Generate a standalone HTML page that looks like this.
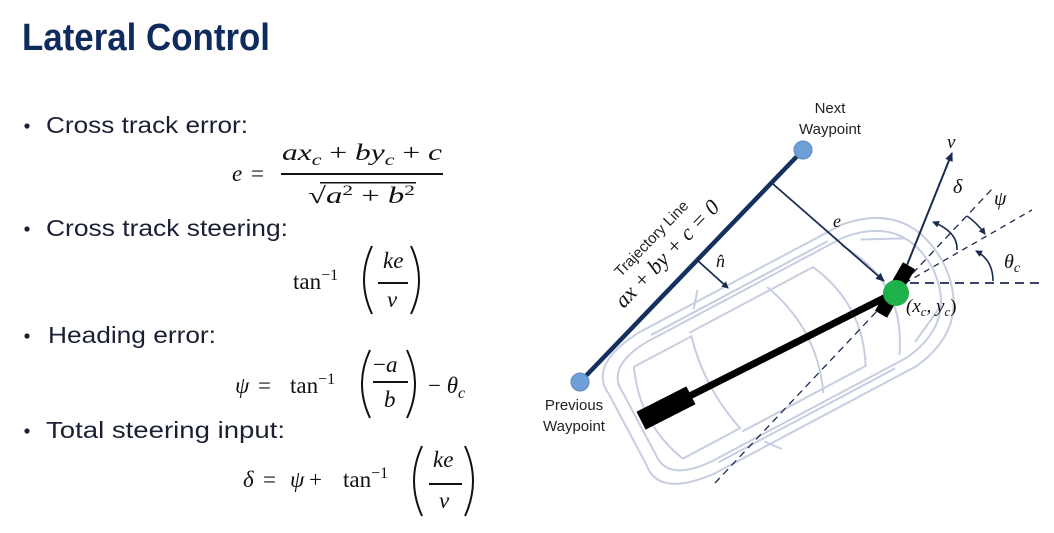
<!DOCTYPE html>
<html><head><meta charset="utf-8"><style>
html,body{margin:0;padding:0;background:#fff;}
svg{display:block}
.t{font-family:"Liberation Sans",sans-serif;fill:#1b1f33;font-size:23px}
.m{font-family:"Liberation Serif",serif;fill:#111;font-size:23px}
.i{font-style:italic}
.p{fill:none;stroke:#111;stroke-width:2}
</style></head><body>
<svg width="1054" height="533" viewBox="0 0 1054 533" xmlns="http://www.w3.org/2000/svg">
<defs>
<marker id="ah" markerWidth="10" markerHeight="10" refX="8" refY="5" orient="auto" markerUnits="userSpaceOnUse"><path d="M0,1 L9,5 L0,9 Z" fill="#1a2a50"/></marker>
<marker id="ah2" markerWidth="8" markerHeight="8" refX="6" refY="4" orient="auto" markerUnits="userSpaceOnUse"><path d="M0,0.5 L7,4 L0,7.5 Z" fill="#1a2a50"/></marker>
</defs>
<text x="22" y="50" font-family="'Liberation Sans Narrow','Liberation Sans',sans-serif" font-weight="bold" font-size="38" fill="#0f2a5c" textLength="248" lengthAdjust="spacingAndGlyphs">Lateral Control</text>

<g class="t">
<circle cx="27" cy="126" r="2.6" fill="#1b1f33"/>
<text x="46" y="133" textLength="202" lengthAdjust="spacingAndGlyphs">Cross track error:</text>
<circle cx="27" cy="229" r="2.6" fill="#1b1f33"/>
<text x="46" y="236" textLength="242" lengthAdjust="spacingAndGlyphs">Cross track steering:</text>
<circle cx="27" cy="336" r="2.6" fill="#1b1f33"/>
<text x="48" y="343" textLength="168" lengthAdjust="spacingAndGlyphs">Heading error:</text>
<circle cx="27" cy="431" r="2.6" fill="#1b1f33"/>
<text x="46" y="438" textLength="239" lengthAdjust="spacingAndGlyphs">Total steering input:</text>
</g>

<!-- formula 1 -->
<g class="m">
<text x="232" y="181" class="i">e</text>
<text x="251" y="181">=</text>
<text x="282" y="160" textLength="160" lengthAdjust="spacingAndGlyphs"><tspan class="i">ax</tspan><tspan class="i" font-size="16" dy="5">c</tspan><tspan dy="-5"> + </tspan><tspan class="i">by</tspan><tspan class="i" font-size="16" dy="5">c</tspan><tspan dy="-5"> + </tspan><tspan class="i">c</tspan></text>
<rect x="281" y="173" width="162" height="2" fill="#111"/>
<text x="308" y="203" textLength="107" lengthAdjust="spacingAndGlyphs">√<tspan class="i">a</tspan><tspan font-size="15" dy="-8">2</tspan><tspan dy="8"> + </tspan><tspan class="i">b</tspan><tspan font-size="15" dy="-8">2</tspan></text>
<rect x="320" y="182" width="96" height="1.5" fill="#111"/>
</g>

<!-- formula 2 -->
<g class="m">
<text x="293" y="289">tan<tspan font-size="16" dy="-9">−1</tspan></text>
<path class="p" d="M372,246 Q356,280 372,314"/>
<text x="383" y="268" class="i">ke</text>
<rect x="378" y="282" width="30" height="2" fill="#111"/>
<text x="387" y="307" class="i">v</text>
<path class="p" d="M411,246 Q427,280 411,314"/>
</g>

<!-- formula 3 -->
<g class="m">
<text x="235" y="393" class="i">ψ</text>
<text x="258" y="393">=</text>
<text x="290" y="393">tan<tspan font-size="16" dy="-9">−1</tspan></text>
<path class="p" d="M370,350 Q354,384 370,418"/>
<text x="373" y="372">−<tspan class="i">a</tspan></text>
<rect x="373" y="381" width="35" height="2" fill="#111"/>
<text x="384" y="407" class="i">b</text>
<path class="p" d="M407,350 Q423,384 407,418"/>
<text x="428" y="393">− <tspan class="i">θ</tspan><tspan class="i" font-size="16" dy="5">c</tspan></text>
</g>

<!-- formula 4 -->
<g class="m">
<text x="243" y="487" class="i">δ</text>
<text x="263" y="487">=</text>
<text x="290" y="487" class="i">ψ</text>
<text x="309" y="487">+</text>
<text x="343" y="487">tan<tspan font-size="16" dy="-9">−1</tspan></text>
<path class="p" d="M422,446 Q406,481 422,516"/>
<text x="433" y="467" class="i">ke</text>
<rect x="429" y="483" width="33" height="2" fill="#111"/>
<text x="439" y="508" class="i">v</text>
<path class="p" d="M465,446 Q481,481 465,516"/>
</g>

<!-- car outline -->
<g transform="translate(782,347) rotate(-28)" fill="none" stroke="#c6cee0" stroke-width="2">
<path d="M-175,-40 Q-180,-75 -120,-80 L110,-80 Q180,-70 182,0 Q180,70 110,80 L-120,80 Q-180,75 -175,40 Z"/>
<path d="M-162,-35 Q-165,-66 -115,-68 L105,-68 Q168,-60 170,0 Q168,60 105,68 L-115,68 Q-165,66 -162,35 Z"/>
<path d="M-140,-52 Q-162,0 -140,52 L-75,52 Q-88,0 -75,-52 Z"/>
<path d="M-75,-56 L65,-56 Q92,0 65,56 L-75,56"/>
<path d="M15,-60 Q40,0 15,60"/>
<path d="M100,-62 Q140,0 100,62"/>
<path d="M-110,-72 L90,-72 M-110,72 L90,72"/>
<path d="M-60,-75 L-48,-90 M-60,75 L-48,90"/>
<path d="M120,-58 L160,-38 M120,58 L160,38"/>
</g>

<!-- trajectory -->
<line x1="580" y1="382" x2="803" y2="150" stroke="#14305e" stroke-width="4.5"/>
<circle cx="803" cy="150" r="9" fill="#6e9fd6" stroke="#5b89c0" stroke-width="1"/>
<circle cx="580" cy="382" r="9" fill="#6e9fd6" stroke="#5b89c0" stroke-width="1"/>
<text x="830" y="113" font-family="'Liberation Sans',sans-serif" font-size="15" fill="#222" text-anchor="middle">Next</text>
<text x="830" y="134" font-family="'Liberation Sans',sans-serif" font-size="15" fill="#222" text-anchor="middle">Waypoint</text>
<text x="574" y="410" font-family="'Liberation Sans',sans-serif" font-size="15" fill="#222" text-anchor="middle">Previous</text>
<text x="574" y="431" font-family="'Liberation Sans',sans-serif" font-size="15" fill="#222" text-anchor="middle">Waypoint</text>
<g transform="translate(655,242) rotate(-46)">
<text x="0" y="0" font-family="'Liberation Sans',sans-serif" font-size="15" fill="#222" text-anchor="middle">Trajectory Line</text>
<text x="0" y="24" font-family="'Liberation Serif',serif" font-style="italic" font-size="22" fill="#111" text-anchor="middle">ax + by + c = 0</text>
</g>

<!-- e and n arrows -->
<line x1="773" y1="184" x2="884" y2="281" stroke="#1a2a50" stroke-width="1.8" marker-end="url(#ah)"/>
<text x="833" y="227" font-family="'Liberation Serif',serif" font-style="italic" font-size="18" fill="#111">e</text>
<line x1="697" y1="260" x2="728" y2="288" stroke="#1a2a50" stroke-width="1.8" marker-end="url(#ah2)"/>
<text x="716" y="267" font-family="'Liberation Serif',serif" font-style="italic" font-size="18" fill="#111">n̂</text>

<!-- dashed lines -->
<line x1="715" y1="483" x2="993" y2="188" stroke="#1a2a50" stroke-width="1.3" stroke-dasharray="7,5"/>
<line x1="905" y1="283" x2="1032" y2="210" stroke="#1a2a50" stroke-width="1.3" stroke-dasharray="6,5"/>
<line x1="910" y1="283" x2="1043" y2="283" stroke="#1a2a50" stroke-width="1.8" stroke-dasharray="9,6"/>

<!-- body axle & wheels -->
<line x1="660" y1="411" x2="886" y2="297" stroke="#000" stroke-width="7"/>
<g transform="translate(666,408) rotate(-27)"><rect x="-28" y="-10" width="56" height="20" fill="#000"/></g>
<g transform="translate(895,290) rotate(-60)"><rect x="-28" y="-7" width="56" height="14" fill="#000"/></g>
<circle cx="896" cy="293" r="13" fill="#1fb24a"/>

<!-- v arrow -->
<line x1="907" y1="265" x2="952" y2="153" stroke="#1a2a50" stroke-width="2" marker-end="url(#ah)"/>
<text x="947" y="148" font-family="'Liberation Serif',serif" font-style="italic" font-size="19" fill="#111">v</text>
<!-- arcs -->
<path d="M957,250 Q958,232 933,222" fill="none" stroke="#1a2a50" stroke-width="1.6" marker-end="url(#ah2)"/>
<path d="M967,216 Q976,222 985,234" fill="none" stroke="#1a2a50" stroke-width="1.6" marker-end="url(#ah2)"/>
<path d="M993,281 Q993,260 976,251" fill="none" stroke="#1a2a50" stroke-width="1.6" marker-end="url(#ah2)"/>
<text x="953" y="193" font-family="'Liberation Serif',serif" font-style="italic" font-size="20" fill="#111">δ</text>
<text x="994" y="205" font-family="'Liberation Serif',serif" font-style="italic" font-size="20" fill="#111">ψ</text>
<text x="1004" y="268" font-family="'Liberation Serif',serif" font-style="italic" font-size="20" fill="#111">θ<tspan font-size="14" dy="4">c</tspan></text>
<text x="906" y="312" font-family="'Liberation Serif',serif" font-style="italic" font-size="19" fill="#111">(x<tspan font-size="13" dy="4">c</tspan><tspan dy="-4">, y</tspan><tspan font-size="13" dy="4">c</tspan><tspan dy="-4" font-style="normal">)</tspan></text>
</svg>
</body></html>
